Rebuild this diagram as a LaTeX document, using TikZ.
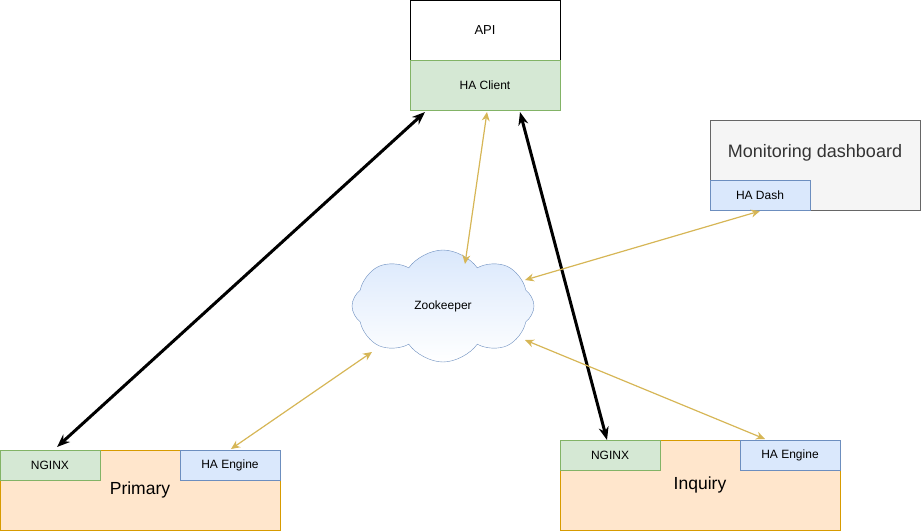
\documentclass[tikz,border=0pt]{standalone}
\usepackage{fontspec}
\setmainfont{Liberation Sans}
\usepackage{xcolor}
\usetikzlibrary{arrows.meta,positioning,shapes.symbols,calc}
\definecolor{dgreen}{HTML}{D5E8D4}
\definecolor{dgreenline}{HTML}{82B366}
\definecolor{dblue}{HTML}{DAE8FC}
\definecolor{dblueline}{HTML}{6C8EBF}
\definecolor{dorange}{HTML}{FFE6CC}
\definecolor{dorangeline}{HTML}{D79B00}
\definecolor{dgray}{HTML}{F5F5F5}
\definecolor{dgrayline}{HTML}{666666}
\definecolor{dgold}{HTML}{D6B656}
\tikzset{
  box/.style={rectangle, draw, outer sep=0pt, inner sep=2pt, align=center,
    font=\fontsize{13}{15}\selectfont},
  sub/.style={box, minimum width=100pt, minimum height=30pt,
    font=\fontsize{12}{14}\selectfont},
  greenbox/.style={fill=dgreen, draw=dgreenline},
  bluebox/.style={fill=dblue, draw=dblueline},
  site/.style={box, fill=dorange, draw=dorangeline, minimum width=280pt,
    font=\fontsize{17.5}{20}\selectfont},
  link/.style={{Stealth[length=13pt,width=10pt]}-{Stealth[length=13pt,width=10pt]},
    line width=3pt, draw=black},
  zklink/.style={{Stealth[length=9pt,width=8pt]}-{Stealth[length=9pt,width=8pt]},
    line width=1.2pt, draw=dgold},
}
\begin{document}
\begin{tikzpicture}[x=1pt,y=1pt]
  \useasboundingbox (0,0) rectangle (921,-531);
  % client side
  \node[box, minimum width=150pt, minimum height=60pt] (api) at (485,-30) {API};
  \node[box, greenbox, minimum width=150pt, minimum height=50pt,
    font=\fontsize{12}{14}\selectfont, below=0pt of api] (hacl) {HA Client};
  % dashboard
  \node[box, fill=dgray, draw=dgrayline, minimum width=210pt, minimum height=90pt,
    label={[text=black!80, font=\fontsize{18}{21}\selectfont, yshift=12pt]center:Monitoring dashboard}]
    (mon) at (815,-165) {};
  \node[sub, bluebox, above right=0pt and 0pt of mon.south west] (hadash) {HA Dash};
  % zookeeper
  \node[cloud, cloud puffs=8, cloud puff arc=110, aspect=1.6, draw=dblueline,
    top color=dblue, bottom color=white, minimum width=182pt, minimum height=112pt,
    font=\fontsize{12}{14}\selectfont] (zk) at (443,-306) {Zookeeper};
  % sites
  \node[site, minimum height=80pt] (prim) at (140,-490) {Primary};
  \node[sub, greenbox, below right=0pt and 0pt of prim.north west] (pnginx) {NGINX};
  \node[sub, bluebox, below left=0pt and 0pt of prim.north east] (peng) {HA Engine};
  \node[site, minimum height=90pt] (inq) at (700,-485) {Inquiry};
  \node[sub, greenbox, below right=0pt and 0pt of inq.north west] (inginx) {NGINX};
  \node[sub, bluebox, below left=0pt and 0pt of inq.north east] (ieng) {HA Engine};
  % traffic
  \draw[link] ($(pnginx.north)+(7,3)$) -- ($(hacl.south west)+(15,-2)$);
  \draw[link] ($(hacl.south east)+(-40,-2)$) -- ($(inginx.north)+(-3,0)$);
  % coordination
  \draw[zklink] ($(hacl.south)+(2,-2)$) -- ($(zk.center)+(22,42)$);
  \draw[zklink] ($(hadash.south)+(0,-1)$) -- ($(zk.center)+(82,26)$);
  \draw[zklink] ($(zk.center)+(-71,-46)$) -- ($(peng.north)+(1,1)$);
  \draw[zklink] ($(zk.center)+(82,-34)$) -- ($(ieng.north)+(-25,1)$);
\end{tikzpicture}
\end{document}
